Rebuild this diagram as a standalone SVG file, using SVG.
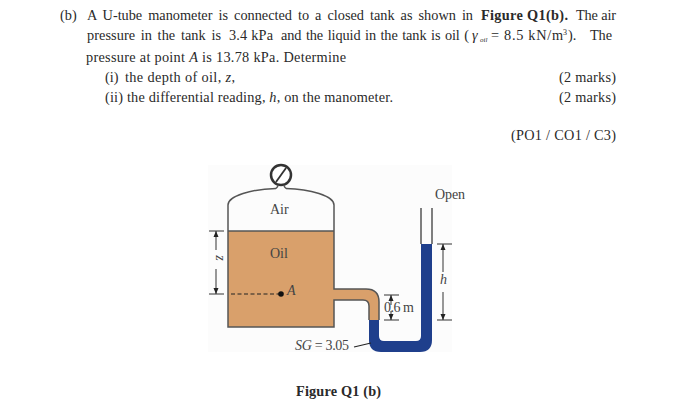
<svg xmlns="http://www.w3.org/2000/svg" width="700" height="413" viewBox="0 0 700 413">
<style>
text{font-family:"Liberation Serif","Times New Roman",serif;font-size:14.300px;fill:#2a2a2a}
.b{font-weight:bold}
.i{font-style:italic}
.f{font-size:14px;fill:#444}
.w{fill:none;stroke:#555;stroke-width:1.500}
.d{fill:none;stroke:#333;stroke-width:1}
</style>
<defs>
<marker id="a" markerWidth="7" markerHeight="7" refX="6" refY="3" orient="auto"><path d="M0 0.500L6 3L0 5.500Z" fill="#222"/></marker>
</defs>
<rect width="700" height="413" fill="#fff"/>
<g id="question">
<text x="60" y="20">(b)</text>
<text x="87" y="20" word-spacing="2.500" textLength="386">A U-tube manometer is connected to a closed tank as shown in</text>
<text class="b" x="481" y="20" textLength="87">Figure Q1(b).</text>
<text x="576" y="20" textLength="40">The air</text>
<text x="87" y="40" word-spacing="2" textLength="134">pressure in the tank is</text>
<text x="229" y="40" textLength="44">3.4 kPa</text>
<text x="281" y="40" word-spacing="1" textLength="188">and the liquid in the tank is oil (</text>
<text class="i" x="472" y="40">γ</text>
<text class="i" x="480" y="42" style="font-size:7px">oil</text>
<text x="491" y="40" textLength="72">= 8.5 kN/m</text>
<text x="563" y="35" style="font-size:8px">3</text>
<text x="568" y="40">).</text>
<text x="590" y="40" textLength="22">The</text>
<text x="86" y="62" textLength="260">pressure at point <tspan class="i">A</tspan> is 13.78 kPa. Determine</text>
<text x="105" y="82">(i)</text>
<text x="125" y="82" textLength="110">the depth of oil, <tspan class="i">z</tspan>,</text>
<text x="559" y="82" textLength="57">(2 marks)</text>
<text x="105" y="102" textLength="288">(ii) the differential reading, <tspan class="i">h</tspan>, on the manometer.</text>
<text x="559" y="102" textLength="57">(2 marks)</text>
<text x="511" y="140" textLength="105">(PO1 / CO1 / C3)</text>
</g>
<rect id="panel" x="208" y="165" width="244" height="187" fill="#fcfcfc"/>
<g id="tank">
<path d="M228 231H334V289H366Q379 289 379 302V320H369V306Q369 300 363 300H334V327H228Z" fill="#d9a06b"/>
<path class="w" d="M228 231V205C228 196 252 189 276 188.500M334 231V205C334 196 310 189 286 188.500"/>
<path class="w" d="M228 231H334M228 231V327H334V300H363Q369 300 369 306V320M334 231V289H366Q379 289 379 302V320"/>
</g>
<g id="gauge">
<circle cx="281" cy="175" r="10" fill="#fff" stroke="#333" stroke-width="2.500"/>
<path d="M276 182L286 168" stroke="#333" stroke-width="1.800"/>
<path class="w" d="M276 188.500Q278 187 278 185M286 188.500Q284 187 284 185"/>
</g>
<g id="manometer">
<path d="M369 320H379V336Q379 341 384 341H416Q421 341 421 336V244H432V340Q432 352 420 352H381Q369 352 369 340Z" fill="#1f3f8c"/>
<path class="w" d="M421 208V244M432 208V244"/>
</g>
<g id="connectors">
<path d="M231 294H281" fill="none" stroke="#222" stroke-width="1.200" stroke-dasharray="4 2.500"/>
<path class="d" d="M209 231H224M209 294H224M437 244H452M437 320H452M384 295H399M384 320H399"/>
<path class="d" marker-end="url(#a)" d="M216 250V231"/>
<path class="d" marker-end="url(#a)" d="M216 269V294"/>
<path class="d" marker-end="url(#a)" d="M443 272V244"/>
<path class="d" marker-end="url(#a)" d="M443 292V320"/>
<path class="d" marker-end="url(#a)" d="M391 305V295"/>
<path class="d" marker-end="url(#a)" d="M391 311V320"/>
<path d="M354 347L371 343" fill="none" stroke="#222" stroke-width="1.200"/>
</g>
<g id="point-a"><circle cx="281" cy="294" r="2.800" fill="#111"/></g>
<g id="labels">
<text class="f" x="270" y="214">Air</text>
<text class="f" x="270" y="258">Oil</text>
<text class="i f" x="287" y="295">A</text>
<text class="i f" x="216" y="258" text-anchor="middle" transform="rotate(90 216 258)">z</text>
<text class="i f" x="440" y="284">h</text>
<text class="f" x="384" y="312" textLength="30">0.6 m</text>
<text class="f" x="295" y="350" textLength="54"><tspan class="i">SG</tspan> = 3.05</text>
<text class="f" x="435" y="199" textLength="30">Open</text>
<text class="b" x="296" y="396" textLength="85">Figure Q1 (b)</text>
</g>
</svg>
